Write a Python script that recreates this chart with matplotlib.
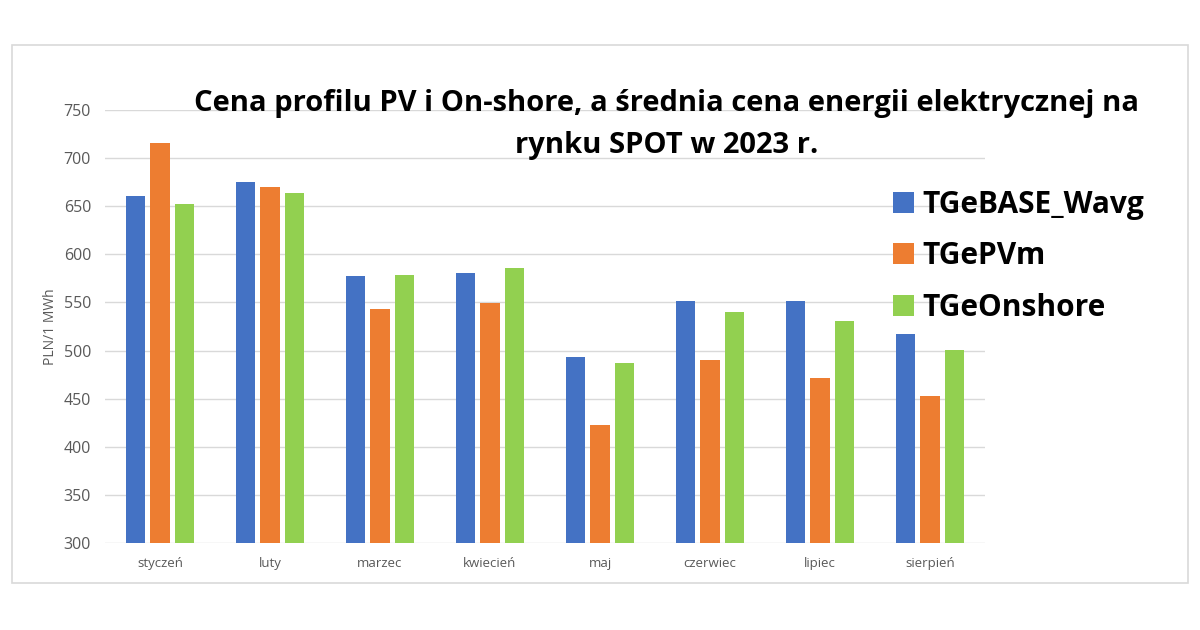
import matplotlib.pyplot as plt
import numpy as np
from matplotlib.patches import Rectangle

# dane (PLN/1 MWh)
miesiace = ['styczeń', 'luty', 'marzec', 'kwiecień', 'maj', 'czerwiec', 'lipiec', 'sierpień']
base_wavg = [661, 675, 577, 581, 493, 551, 551, 517]
pvm = [716, 670, 543, 549, 423, 490, 471, 453]
onshore = [652, 664, 579, 586, 487, 540, 531, 501]

serie = ['TGeBASE_Wavg', 'TGePVm', 'TGeOnshore']
kolory = ['#4472C4', '#ED7D31', '#92D050']

plt.rcParams['font.family'] = ['Open Sans', 'DejaVu Sans']

fig = plt.figure(figsize=(12, 6.3), dpi=100)
fig.patch.set_facecolor('white')

# ramka wykresu
fig.patches.append(Rectangle((12/1200, 47/630), 1176/1200, 538/630,
                             transform=fig.transFigure, fill=False,
                             edgecolor='#d9d9d9', linewidth=1.2))

ax = fig.add_axes([105/1200, 87/630, 880/1200, 433/630])

x = np.arange(len(miesiace))
w = 0.18
krok = 0.222
for i, (dane, kol, nazwa) in enumerate(zip([base_wavg, pvm, onshore], kolory, serie)):
    ax.bar(x + (i - 1) * krok, np.array(dane) - 300, w, bottom=300,
           color=kol, label=nazwa, zorder=3)

ax.set_ylim(300, 750)
ax.set_xlim(-0.5, len(miesiace) - 0.5)
ax.set_yticks(np.arange(300, 751, 50))
ax.set_xticks(x)
ax.set_xticklabels(miesiace)
ax.grid(axis='y', color='#d9d9d9', linewidth=1, zorder=0)
for s in ax.spines.values():
    s.set_visible(False)
ax.tick_params(axis='both', length=0, colors='#595959')
ax.tick_params(axis='y', labelsize=11.5, pad=10)
ax.tick_params(axis='x', labelsize=9.5, pad=10)
ax.set_ylabel('PLN/1 MWh', fontsize=10, color='#595959', labelpad=4)

# tytuł
fig.text(667/1200, 1 - 103/630, 'Cena profilu PV i On-shore, a średnia cena energii elektrycznej na',
         ha='center', va='center', fontsize=21, fontweight='bold', color='black')
fig.text(667/1200, 1 - 145/630, 'rynku SPOT w 2023 r.',
         ha='center', va='center', fontsize=21, fontweight='bold', color='black')

leg = fig.legend(loc='upper left', bbox_to_anchor=(866/1200, 1 - 163/630),
                 frameon=False, handlelength=0.7, handleheight=0.7,
                 handletextpad=0.3, labelspacing=0.72, prop={'weight': 'bold', 'size': 21.5})

fig.savefig('out.png', dpi=100, facecolor='white')
